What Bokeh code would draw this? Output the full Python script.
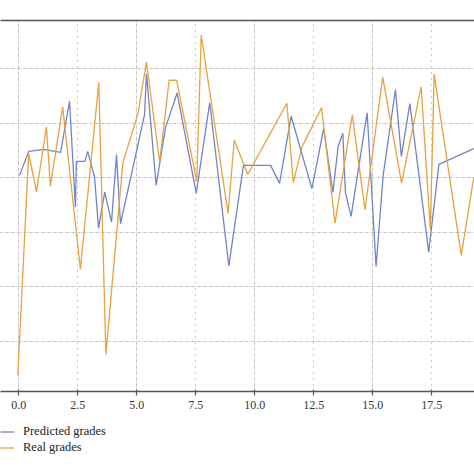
from bokeh.plotting import figure
from bokeh.layouts import column
from bokeh.models import (Range1d, FixedTicker, LinearAxis, Grid, Legend, LegendItem,
                          PrintfTickFormatter)
from bokeh.embed import file_html
from bokeh.resources import INLINE

# Predicted grades (blue)
pred_x = [0.03, 0.42, 1.06, 1.77, 2.15, 2.40, 2.44, 2.80, 2.92, 3.21, 3.38, 3.64, 3.93,
          4.14, 4.31, 5.33, 5.41, 5.82, 6.22, 6.71, 7.52, 8.09, 8.90, 9.52, 10.67, 11.05,
          11.54, 12.42, 12.92, 13.31, 13.53, 13.73, 13.84, 14.08, 14.76, 15.14, 15.44,
          15.96, 16.21, 16.57, 17.37, 17.80, 19.28]
pred_y = [40.44, 44.85, 45.22, 44.67, 54.04, 34.61, 43.01, 43.01, 44.85, 40.13, 30.75,
          37.37, 31.86, 44.25, 31.56, 51.60, 59.10, 38.60, 49.26, 55.57, 37.19, 53.77,
          23.81, 42.28, 42.28, 38.97, 51.29, 38.00, 49.03, 37.32, 45.68, 48.16, 37.32,
          32.90, 51.93, 23.71, 40.44, 56.19, 43.93, 53.62, 26.34, 42.46, 45.35]

# Real grades (orange)
real_x = [-0.04, 0.42, 0.75, 1.17, 1.34, 1.86, 2.61, 3.39, 3.69, 4.41, 5.05, 5.41, 5.97,
          6.37, 6.69, 7.54, 7.73, 8.87, 9.13, 9.70, 11.36, 11.63, 12.01, 12.83, 13.40,
          14.13, 14.67, 15.42, 16.22, 17.05, 17.44, 17.60, 18.75, 19.28]
real_y = [3.68, 44.49, 37.37, 49.32, 38.47, 53.00, 23.20, 57.48, 7.54, 42.74, 51.78,
          61.21, 42.89, 57.90, 57.90, 39.34, 66.18, 33.46, 46.88, 40.63, 53.68, 39.15,
          45.77, 52.85, 31.67, 51.56, 34.14, 58.46, 39.03, 56.75, 30.42, 59.01, 25.74,
          40.13]

series_names = ["Predicted grades", "Real grades"]
x_ticks = [0.0, 2.5, 5.0, 7.5, 10.0, 12.5, 15.0, 17.5]
y_grid = [10, 20, 30, 40, 50, 60]

SERIF = "Liberation Serif"
BLUE = "#7283c6"
ORANGE = "#e8a23e"

p = figure(width=474, height=414, output_backend="svg", toolbar_location=None,
           x_range=Range1d(-0.775, 19.31), y_range=Range1d(0.77, 68.87),
           x_axis_location=None, y_axis_location=None,
           min_border_left=0, min_border_right=0, min_border_top=20,
           min_border_bottom=23)
p.outline_line_color = None
p.background_fill_color = "white"
p.border_fill_color = "white"

xaxis = LinearAxis(ticker=FixedTicker(ticks=x_ticks),
                   formatter=PrintfTickFormatter(format="%.1f"),
                   axis_line_color="#555555", axis_line_width=1.5,
                   major_tick_line_color="#555555", major_tick_line_width=1.2,
                   major_tick_in=2, major_tick_out=4,
                   minor_tick_line_color=None,
                   major_label_text_font=SERIF, major_label_text_font_size="12px",
                   major_label_text_color="#333333", major_label_standoff=5)
p.add_layout(xaxis, "below")

top = LinearAxis(ticker=FixedTicker(ticks=[]), axis_line_color="#555555",
                 axis_line_width=1.5, major_tick_line_color=None,
                 minor_tick_line_color=None, major_label_text_font_size="0px")
p.add_layout(top, "above")

p.add_layout(Grid(dimension=0, ticker=FixedTicker(ticks=x_ticks),
                  grid_line_color="#999999", grid_line_dash="1 5", grid_line_width=1))
p.add_layout(Grid(dimension=1, ticker=FixedTicker(ticks=y_grid),
                  grid_line_color="#999999", grid_line_dash="1 5", grid_line_width=1))

p.line(pred_x, pred_y, line_color=BLUE, line_width=1.3)
p.line(real_x, real_y, line_color=ORANGE, line_width=1.3)

# legend panel below the chart
q = figure(width=474, height=60, output_backend="svg", toolbar_location=None,
           x_range=Range1d(0, 1), y_range=Range1d(0, 1),
           x_axis_location=None, y_axis_location=None,
           min_border_left=0, min_border_right=0, min_border_top=0, min_border_bottom=0)
q.outline_line_color = None
q.grid.visible = False
k1 = q.line(x=[2, 3], y=[2, 3], line_color=BLUE, line_width=1.3)
k2 = q.line(x=[2, 3], y=[2, 3], line_color=ORANGE, line_width=1.3)
legend = Legend(items=[LegendItem(label=series_names[0], renderers=[k1]),
                       LegendItem(label=series_names[1], renderers=[k2])],
                location=(0, 19), orientation="vertical",
                label_text_font=SERIF, label_text_font_size="12.5px",
                label_text_color="#222222",
                glyph_width=14, glyph_height=15, label_height=15, label_standoff=9,
                spacing=1, padding=0, margin=0,
                border_line_color=None, background_fill_alpha=0)
q.add_layout(legend, "center")

layout = column(p, q, spacing=0)
open("out.html", "w").write(file_html(layout, INLINE))
